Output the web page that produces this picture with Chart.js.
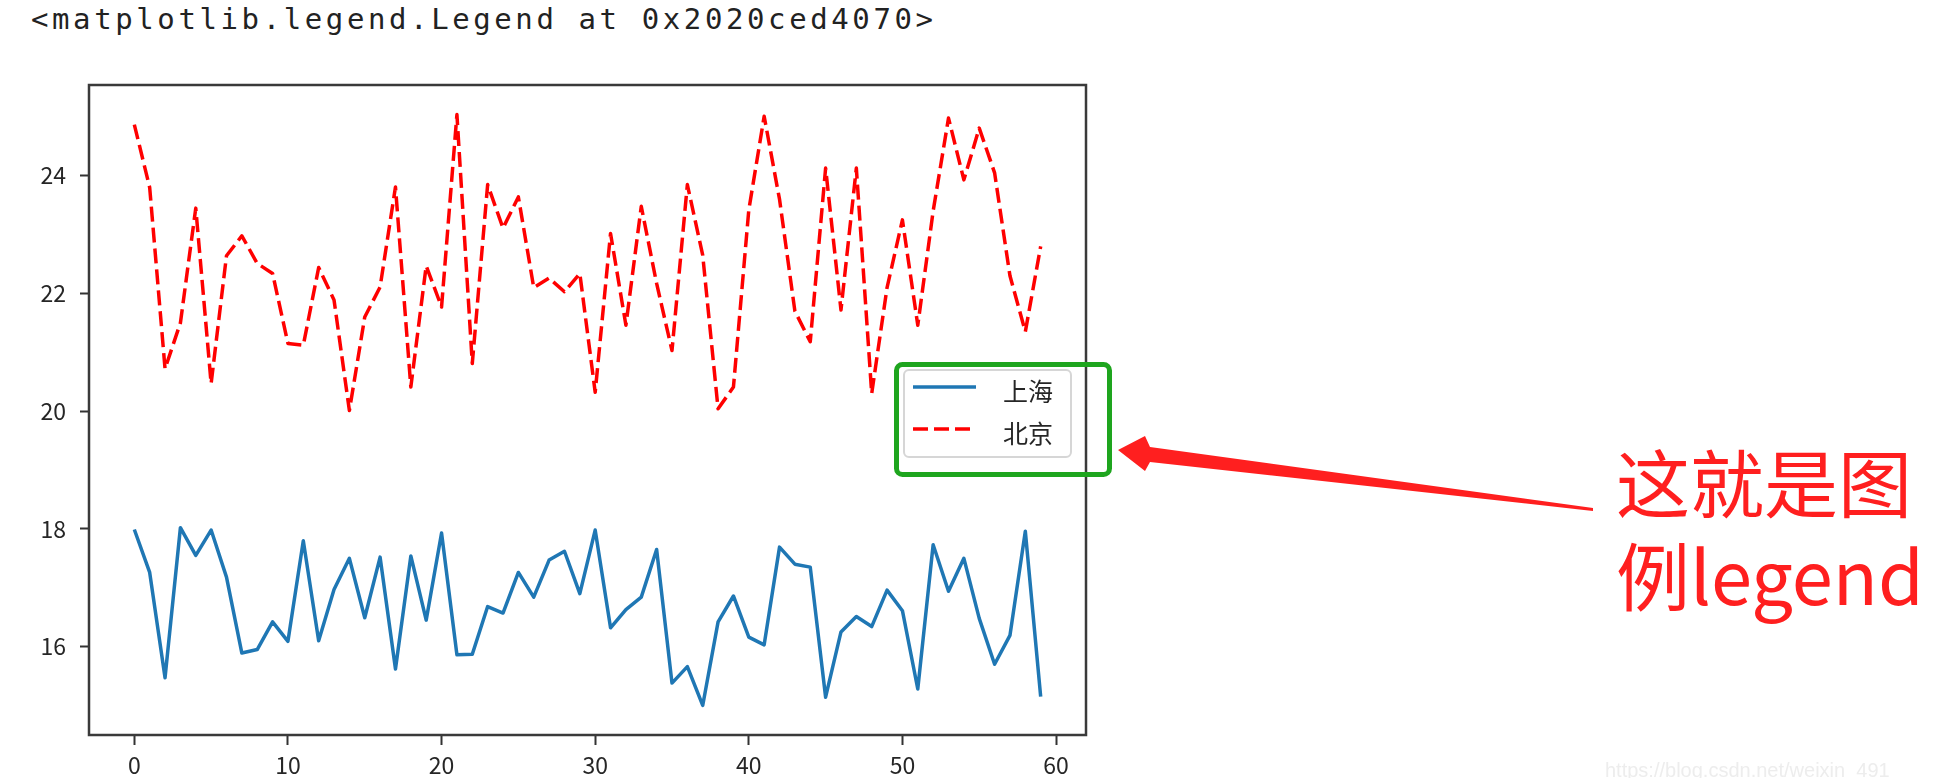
<!DOCTYPE html>
<html>
<head>
<meta charset="utf-8">
<title>legend</title>
<script src="https://cdn.jsdelivr.net/npm/chart.js@4.4.1/dist/chart.umd.min.js"></script>
<style>
  html, body { margin: 0; padding: 0; background: #fff; }
  #wrap { position: relative; width: 1950px; height: 778px; overflow: hidden; }
  #chartBox { position: absolute; left: 0; top: 0; width: 1950px; height: 778px; }
  .out {
    position: absolute; left: 31px; top: 5px;
    font: 29px/29px 'DejaVu Sans Mono', monospace;
    letter-spacing: 3.6px; color: #222; white-space: pre;
  }
  .note {
    position: absolute; left: 1616px; top: 433px;
    font: 74px/93px 'Noto Sans CJK SC', sans-serif;
    color: #ff1f1f; white-space: pre;
  }
  .wm {
    position: absolute; left: 1605px; top: 760px;
    font: 20px/20px 'Liberation Sans', sans-serif;
    color: #ededed; white-space: pre;
  }
  svg { position: absolute; left: 0; top: 0; }
</style>
</head>
<body>
<div id="wrap">
  <div class="out">&lt;matplotlib.legend.Legend at 0x2020ced4070&gt;</div>
  <div id="chartBox"><canvas id="mainChart"></canvas></div>
  <svg width="1950" height="778">
    <rect x="896.5" y="364.5" width="213" height="110" rx="6" fill="none" stroke="#1ea51e" stroke-width="5"/>
    <polygon points="1118,450 1145,436 1150,447 1593,508 1593,511 1150,462 1145,471" fill="#ff1f1f"/>
  </svg>
  <div class="note">这就是图
例legend</div>
  <div class="wm">https://blog.csdn.net/weixin_491</div>
</div>

<script>
'use strict';

// ── Data ───────────────────────────────────────────────────────────────────────
const seriesNames = ['上海', '北京'];

const shanghai = [
  17.99, 17.26, 15.47, 18.02, 17.55, 17.98, 17.18, 15.89, 15.95, 16.42,
  16.09, 17.80, 16.10, 16.97, 17.50, 16.49, 17.52, 15.62, 17.54, 16.45,
  17.93, 15.86, 15.87, 16.68, 16.57, 17.26, 16.84, 17.47, 17.62, 16.90,
  17.98, 16.32, 16.63, 16.84, 17.65, 15.38, 15.66, 15.00, 16.42, 16.86,
  16.16, 16.03, 17.69, 17.40, 17.35, 15.14, 16.25, 16.51, 16.34, 16.96,
  16.61, 15.28, 17.73, 16.94, 17.50, 16.48, 15.70, 16.19, 17.96, 15.15
];

const beijing = [
  24.87, 23.80, 20.72, 21.50, 23.45, 20.47, 22.64, 22.98, 22.51, 22.34,
  21.15, 21.12, 22.44, 21.89, 20.01, 21.60, 22.11, 23.81, 20.41, 22.47,
  21.77, 25.04, 20.81, 23.85, 23.11, 23.64, 22.10, 22.26, 22.03, 22.34,
  20.32, 23.02, 21.46, 23.48, 22.17, 21.03, 23.85, 22.65, 20.04, 20.41,
  23.42, 25.01, 23.60, 21.70, 21.18, 24.13, 21.72, 24.13, 20.30, 22.10,
  23.25, 21.46, 23.40, 24.98, 23.93, 24.81, 24.05, 22.30, 21.35, 22.80
];

const xTicks = [0, 10, 20, 30, 40, 50, 60];
const yTicks = [16, 18, 20, 22, 24];

// ── Helpers ────────────────────────────────────────────────────────────────────
const toPoints = arr => arr.map((v, i) => ({ x: i, y: v }));

// matplotlib-style 5% margins
function padRange(lo, hi) {
  const m = (hi - lo) * 0.05;
  return [lo - m, hi + m];
}

const allY = shanghai.concat(beijing);
const [yMin, yMax] = padRange(Math.min(...allY), Math.max(...allY));
const [xMin, xMax] = padRange(0, shanghai.length - 1);

const TICK_FONT = { family: "'Noto Sans CJK SC', 'Liberation Sans', sans-serif", size: 23 };

// ── Plugins ────────────────────────────────────────────────────────────────────
const framePlugin = {
  id: 'frame',
  afterDatasetsDraw(chart) {
    const { ctx, chartArea: a } = chart;
    ctx.save();
    ctx.strokeStyle = '#3a3a3a';
    ctx.lineWidth = 2.5;
    ctx.strokeRect(a.left, a.top, a.right - a.left, a.bottom - a.top);
    ctx.restore();
  }
};

// legend drawn inside the axes, matplotlib-like
const insideLegend = {
  id: 'insideLegend',
  afterDraw(chart, args, o) {
    const { ctx } = chart;
    ctx.save();
    ctx.beginPath();
    ctx.roundRect(o.left, o.top, o.width, o.height, 5);
    ctx.fillStyle = 'rgba(255,255,255,0.85)';
    ctx.fill();
    ctx.strokeStyle = '#d6d6d6';
    ctx.lineWidth = 2;
    ctx.stroke();

    chart.data.datasets.forEach((ds, i) => {
      const y = o.top + o.firstRow + i * o.rowGap;
      ctx.beginPath();
      ctx.setLineDash(ds.borderDash || []);
      ctx.strokeStyle = ds.borderColor;
      ctx.lineWidth = ds.borderWidth;
      ctx.moveTo(o.left + 9, y);
      ctx.lineTo(o.left + 72, y);
      ctx.stroke();
      ctx.setLineDash([]);
      ctx.fillStyle = '#262626';
      ctx.font = "25px 'Noto Sans CJK SC', sans-serif";
      ctx.textBaseline = 'middle';
      ctx.fillText(ds.label, o.left + 99, y + 4);
    });
    ctx.restore();
  }
};

// ── Chart ──────────────────────────────────────────────────────────────────────
const ctx = document.getElementById('mainChart').getContext('2d');

new Chart(ctx, {
  type: 'line',
  data: {
    datasets: [
      {
        label: seriesNames[0],
        data: toPoints(shanghai),
        borderColor: '#1f77b4',
        borderWidth: 3.5,
        pointRadius: 0,
        tension: 0,
        borderJoinStyle: 'round',
        fill: false,
      },
      {
        label: seriesNames[1],
        data: toPoints(beijing),
        borderColor: '#ff0000',
        borderWidth: 3.5,
        borderDash: [15, 6],
        pointRadius: 0,
        tension: 0,
        borderJoinStyle: 'round',
        fill: false,
      },
    ],
  },
  options: {
    responsive: true,
    maintainAspectRatio: false,
    animation: false,
    events: [],
    layout: { padding: { left: 0, top: 85, right: 864, bottom: 0 } },
    plugins: {
      legend: { display: false },
      tooltip: { enabled: false },
      insideLegend: { left: 904, top: 370, width: 167, height: 87, firstRow: 17, rowGap: 42 },
    },
    scales: {
      x: {
        type: 'linear',
        min: xMin,
        max: xMax,
        afterBuildTicks: s => { s.ticks = xTicks.map(v => ({ value: v })); },
        afterFit: s => { s.height = 43; },
        border: { display: false },
        grid: {
          drawOnChartArea: false,
          drawTicks: true,
          tickLength: 10,
          tickColor: '#333',
          tickWidth: 2,
        },
        ticks: { color: '#262626', font: TICK_FONT, padding: 6, maxRotation: 0 },
      },
      y: {
        type: 'linear',
        min: yMin,
        max: yMax,
        afterBuildTicks: s => { s.ticks = yTicks.map(v => ({ value: v })); },
        afterFit: s => { s.width = 89; },
        border: { display: false },
        grid: {
          drawOnChartArea: false,
          drawTicks: true,
          tickLength: 9,
          tickColor: '#333',
          tickWidth: 2,
        },
        ticks: { color: '#262626', font: TICK_FONT, padding: 14 },
      },
    },
  },
  plugins: [framePlugin, insideLegend],
});
</script>
</body>
</html>
